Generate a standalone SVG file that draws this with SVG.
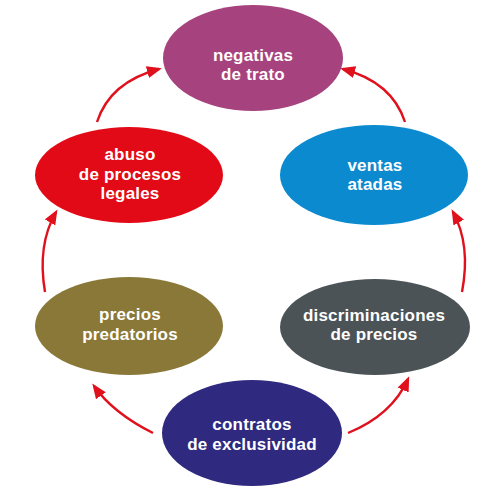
<svg xmlns="http://www.w3.org/2000/svg" width="492" height="504" viewBox="0 0 492 504">
<style>
text{font-family:"Liberation Sans",Arial,sans-serif;font-weight:bold;font-size:17px;letter-spacing:0.2px;fill:#ffffff;text-anchor:middle}
.c{fill:none;stroke:#E0101C;stroke-width:2.4}
</style>
<defs>
<marker id="ah" markerUnits="userSpaceOnUse" markerWidth="16" markerHeight="13" refX="12" refY="6" orient="auto">
<path d="M0,0 L15,6 L0,12 Z" fill="#E0101C"/>
</marker>
</defs>
<rect width="492" height="504" fill="#ffffff"/>
<g id="connectors">
<path class="c" d="M97,122 Q110,82 159,69" marker-end="url(#ah)"/>
<path class="c" d="M405,122 Q392,82 343,69" marker-end="url(#ah)"/>
<path class="c" d="M462,292 Q471,245 453,212" marker-end="url(#ah)"/>
<path class="c" d="M45,292 Q37,245 56,212" marker-end="url(#ah)"/>
<path class="c" d="M153,433 Q113,413 94,386" marker-end="url(#ah)"/>
<path class="c" d="M348,433 Q392,415 408,379" marker-end="url(#ah)"/>
</g>
<g id="negativas">
<ellipse cx="253" cy="58" rx="90" ry="53" fill="#A6437E"/>
<text x="253" y="61">negativas</text>
<text x="253" y="80">de trato</text>
</g>
<g id="abuso">
<ellipse cx="129" cy="175" rx="94" ry="48" fill="#E20A17"/>
<text x="130" y="160">abuso</text>
<text x="130" y="179.5">de procesos</text>
<text x="130" y="199">legales</text>
</g>
<g id="ventas">
<ellipse cx="374" cy="175" rx="94" ry="50" fill="#0B8ACF"/>
<text x="375" y="171">ventas</text>
<text x="375" y="190">atadas</text>
</g>
<g id="precios">
<ellipse cx="129" cy="326" rx="94" ry="49" fill="#8A7838"/>
<text x="130" y="320">precios</text>
<text x="130" y="340">predatorios</text>
</g>
<g id="discriminaciones">
<ellipse cx="375" cy="327" rx="95" ry="48" fill="#4B5357"/>
<text x="374" y="321">discriminaciones</text>
<text x="374" y="340">de precios</text>
</g>
<g id="contratos">
<ellipse cx="252" cy="433" rx="90" ry="53" fill="#2F297F"/>
<text x="252" y="430">contratos</text>
<text x="252" y="450">de exclusividad</text>
</g>
</svg>
